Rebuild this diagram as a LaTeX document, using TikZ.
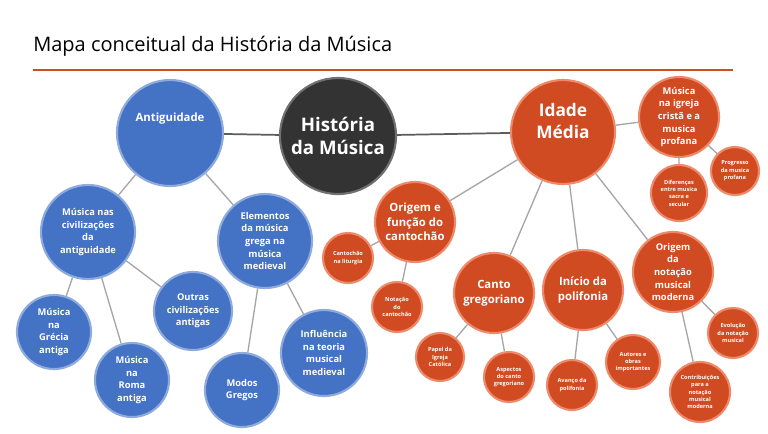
\documentclass[tikz,border=0pt]{standalone}
\usepackage{fontspec}
\setmainfont{Open Sans}
\definecolor{bl}{HTML}{4472C4}
\definecolor{blb}{HTML}{8FAADC}
\definecolor{rd}{HTML}{D04A22}
\definecolor{rdb}{HTML}{EE8A6A}
\definecolor{dk}{HTML}{333333}
\definecolor{edg}{HTML}{A6A6A6}
\tikzset{
 bub/.style={circle,inner sep=0pt,line width=1.6pt},
 blue/.style={bub,fill=bl,draw=blb},
 red/.style={bub,fill=rd,draw=rdb},
 txt/.style={text=white,font=\bfseries,align=center,inner sep=0pt},
 link/.style={draw=edg,line width=1pt},
 mainlink/.style={draw=dk!80,line width=1.3pt}
}
\newcommand{\bubl}[6]{\node[#5,minimum size=#4*1.5pt] (#1) at (#2,#3) {};}
\begin{document}
\begin{tikzpicture}[x=0.75pt,y=-0.75pt]
\useasboundingbox (0,0) rectangle (768,433);
\fill[white] (0,0) rectangle (768,433);
\node[anchor=west,font=\fontsize{15}{18}\selectfont,inner sep=0pt] (title) at (33,46) {Mapa conceitual da História da Música};
\draw[rd,line width=1.2pt] (33,70) -- (733,70);
% nodes
\bubl{hist}{338}{136}{58}{bub,fill=dk!100,draw=dk!70}{}
\bubl{ant}{170}{133}{53}{blue}{}
\bubl{mnc}{88}{232}{47}{blue}{}
\bubl{ele}{265}{241}{47}{blue}{}
\bubl{out}{193}{311}{39}{blue}{}
\bubl{gre}{54}{332}{37}{blue}{}
\bubl{rom}{132}{380}{37}{blue}{}
\bubl{mod}{242}{390}{37}{blue}{}
\bubl{inf}{324}{353}{43}{blue}{}
\bubl{ime}{563}{132}{52}{red}{}
\bubl{mig}{679}{117}{40}{red}{}
\bubl{pro}{735}{171}{24}{red}{}
\bubl{dif}{679}{193}{28}{red}{}
\bubl{onm}{673}{272}{40}{red}{}
\bubl{evo}{733}{333}{25}{red}{}
\bubl{con}{700}{392}{30}{red}{}
\bubl{ipo}{583}{290}{40}{red}{}
\bubl{ava}{572}{385}{25}{red}{}
\bubl{aut}{633}{362}{27}{red}{}
\bubl{cgr}{494}{293}{40}{red}{}
\bubl{pap}{440}{357}{24}{red}{}
\bubl{asp}{509}{377}{25}{red}{}
\bubl{ocf}{415}{222}{40}{red}{}
\bubl{cli}{348}{258}{25}{red}{}
\bubl{not}{397}{307}{25}{red}{}
% edges
\draw[mainlink] (hist) -- (ant);
\draw[mainlink] (hist) -- (ime);
\path[link] (ant) -- (mnc) (ant) -- (ele) (mnc) -- (gre) (mnc) -- (rom) (mnc) -- (out)
 (ele) -- (mod) (ele) -- (inf)
 (ime) -- (mig) (ime) -- (ocf) (ime) -- (cgr) (ime) -- (ipo) (ime) -- (onm)
 (mig) -- (dif) (mig) -- (pro) (onm) -- (evo) (onm) -- (con)
 (ipo) -- (ava) (ipo) -- (aut) (cgr) -- (pap) (cgr) -- (asp)
 (ocf) -- (cli) (ocf) -- (not);
% texts
\node[txt,font=\fontsize{14}{17}\selectfont\bfseries] (thist) at (hist) {História\\da Música};
\node[txt,font=\fontsize{8.5}{10}\selectfont\bfseries] (tant) at (170,119) {Antiguidade};
\node[txt,font=\fontsize{13}{16}\selectfont\bfseries] (time) at (563,121) {Idade\\Média};
\begin{scope}[every node/.append style={txt,font=\fontsize{7}{9.5}\selectfont\bfseries}]
\node (tmnc) at (mnc) {Música nas\\civilizações\\da\\antiguidade};
\node (tele) at (ele) {Elementos\\da música\\grega na\\música\\medieval};
\node (tout) at (out) {Outras\\civilizações\\antigas};
\node (tgre) at (gre) {Música\\na\\Grécia\\antiga};
\node (trom) at (rom) {Música\\na\\Roma\\antiga};
\node (tmod) at (mod) {Modos\\Gregos};
\node (tinf) at (inf) {Influência\\na teoria\\musical\\medieval};
\node (tmig) at (mig) {Música\\na igreja\\cristã e a\\musica\\profana};
\node (tonm) at (onm) {Origem\\da\\notação\\musical\\moderna};
\end{scope}
\begin{scope}[every node/.append style={txt,font=\fontsize{8.5}{11}\selectfont\bfseries}]
\node (tocf) at (ocf) {Origem e\\função do\\cantochão};
\node (tcgr) at (cgr) {Canto\\gregoriano};
\node (tipo) at (ipo) {Início da\\polifonia};
\end{scope}
\begin{scope}[every node/.append style={txt,font=\fontsize{4.2}{5.5}\selectfont\bfseries}]
\node (tpro) at (pro) {Progresso\\da musica\\profana};
\node (tdif) at (dif) {Diferenças\\entre musica\\sacra e\\secular};
\node (tevo) at (evo) {Evolução\\da notação\\musical};
\node (tcon) at (con) {Contribuições\\para a\\notação\\musical\\moderna};
\node (tava) at (ava) {Avanço da\\polifonia};
\node (taut) at (aut) {Autores e\\obras\\importantes};
\node (tpap) at (pap) {Papel da\\Igreja\\Católica};
\node (tasp) at (asp) {Aspectos\\do canto\\gregoriano};
\node (tcli) at (cli) {Cantochão\\na liturgia};
\node (tnot) at (not) {Notação\\do\\cantochão};
\end{scope}
\end{tikzpicture}
\end{document}
